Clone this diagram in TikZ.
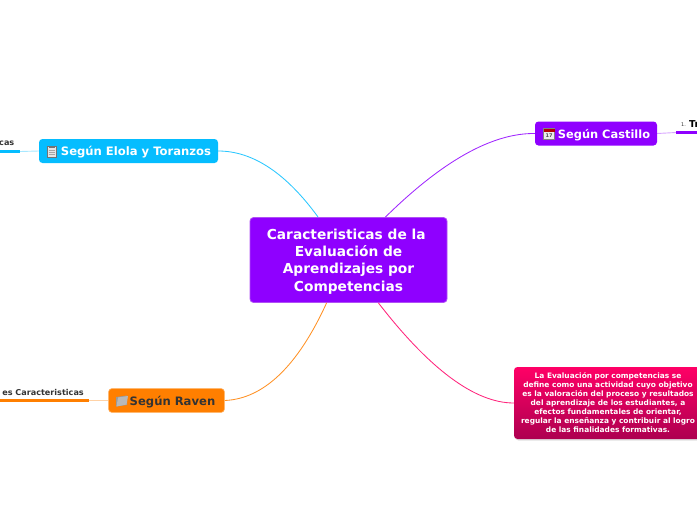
\documentclass[tikz,border=0pt]{standalone}
\usepackage{fontspec}
\setmainfont{DejaVu Sans}
\usetikzlibrary{calc}
\definecolor{vio}{HTML}{8F00FF}
\definecolor{vioL}{HTML}{B050F5}
\definecolor{sky}{HTML}{05BDFF}
\definecolor{org}{HTML}{FF7F00}
\definecolor{orgL}{HTML}{FFB870}
\definecolor{pnk}{HTML}{FF0066}
\definecolor{pnkD}{HTML}{AD0050}
\definecolor{ink}{HTML}{333333}
\tikzset{
  x=1pt,y=-1pt,
  boxn/.style={rounded corners=3.5pt,inner sep=0pt,align=center,font=\bfseries},
  mainb/.style={boxn,minimum height=24pt,text height=11.5pt,text depth=2pt,font=\bfseries\fontsize{11.6}{14}\selectfont},
  link/.style={line width=0.85pt,opacity=.85},
  stub/.style={line width=0.9pt,opacity=.35},
  bar/.style={line width=2.2pt},
  small/.style={font=\bfseries\fontsize{8.1}{10}\selectfont,text=ink,inner sep=0pt},
}
\begin{document}
\begin{tikzpicture}
\useasboundingbox (0,0) rectangle (697,520);
\clip (0,0) rectangle (697,520);
% nodes
\node[boxn,draw=vioL,line width=.8pt,fill=vio,text=white,minimum width=197pt,minimum height=85pt,font=\bfseries\fontsize{13.75}{17.3}\selectfont] (central) at (348.5,260)
  {\rule{0pt}{13.5pt}Caracteristicas de la\hspace*{4.5pt}\\Evaluación de\hspace*{13pt}\\Aprendizajes por\hspace*{10pt}\\Competencias};
\node[mainb,fill=sky,text=white,minimum width=179pt] (elola) at (128.5,151) {\hspace*{15pt}Según Elola y Toranzos};
\node[mainb,fill=vio,text=white,minimum width=122pt,font=\bfseries\fontsize{11.4}{14}\selectfont] (castillo) at (596,133.5) {\hspace*{16pt}Según Castillo};
\node[mainb,fill=org,draw=orgL,line width=.6pt,text=ink,minimum width=116pt] (raven) at (166.5,400.5) {\hspace*{12pt}Según Raven};
\fill[black!12,rounded corners=3.5pt] (515,368.5) rectangle (702,440.5);
\node[boxn,top color=pnk,bottom color=pnkD,text=white,minimum width=188pt,minimum height=72pt,font=\bfseries\fontsize{7.43}{9}\selectfont] (def) at (608,403)
  {La Evaluación por competencias se\\define como una actividad cuyo objetivo\\es la valoración del proceso y resultados\\del aprendizaje de los estudiantes, a\\efectos fundamentales de orientar,\\regular la enseñanza y contribuir al logro\\de las finalidades formativas.};
% child labels
\node[small,anchor=base east] (cas) at (14.5,145.5) {cas};
\node[small,anchor=base east] (rasg) at (84,395) {es Caracteristicas};
\node[font=\fontsize{5}{6}\selectfont,text=ink,inner sep=0pt,anchor=base west] (num) at (681,126) {1.};
\node[font=\bfseries\fontsize{9.5}{11}\selectfont,text=black,inner sep=0pt,anchor=base west] (tr) at (689,127) {Tr};
\coordinate (cA) at (0,151.5);
\coordinate (cB) at (20,151.5);
\coordinate (rA) at (0,400.5);
\coordinate (rB) at (89,400.5);
\coordinate (tA) at (676,132.5);
\coordinate (tB) at (697,132.5);
% connectors
\draw[link,sky] (elola.east) .. controls (252.7,151) and (286,173) .. ($(central.north west)+(68.5,0)$);
\draw[link,vio] (castillo.west) .. controls (491.7,133) and (441.7,161.7) .. ($(central.north east)+(-62,0)$);
\draw[link,org] (raven.east) .. controls (263.5,398.8) and (297.7,366.3) .. ($(central.south west)+(77,0)$);
\draw[link,pnk] (def.west) .. controls (475.3,403) and (430,369.7) .. ($(central.south east)+(-69,0)$);
% stubs and bars
\draw[stub,sky] (cB) -- (elola.west);
\draw[bar,sky] (cA) -- (cB);
\draw[stub,org] (rB) -- (raven.west);
\draw[bar,org] (rA) -- (rB);
\draw[stub,vio] (castillo.east) -- (tA);
\draw[bar,vio] (tA) -- (tB);
% clipboard
\fill[black!10,draw=black!55,line width=.5pt] (47,146.5) rectangle (56.5,157);
\fill[black!55] (49,145.5) rectangle (54.5,147.5);
\draw[black!35,line width=.5pt] (48.5,150) -- (55,150) (48.5,152) -- (55,152) (48.5,154) -- (55,154);
% calendar
\fill[black!8,draw=black!50,line width=.4pt] (543.5,128.5) rectangle (554.5,139);
\fill[red!70!black] (543.5,128.5) rectangle (554.5,132);
\node[font=\bfseries\fontsize{5}{5}\selectfont,text=black!70,inner sep=0pt] (calnum) at (549,135.5) {17};
% folder
\fill[black!40] (116,397) -- (127,395.5) -- (127,405) -- (116,406.5) -- cycle;
\fill[black!28] (118,397.5) -- (128,396) -- (126.5,404.5) -- (116.5,406.5) -- cycle;
\end{tikzpicture}
\end{document}
